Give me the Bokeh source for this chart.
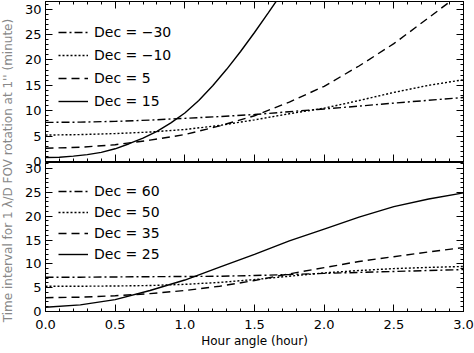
import math
from bokeh.plotting import figure
from bokeh.models import (ColumnDataSource, Range1d, LinearAxis, SingleIntervalTicker,
                          CustomJSTickFormatter, PrintfTickFormatter, Legend, LegendItem, Label)
from bokeh.layouts import row, column
from bokeh.embed import file_html
from bokeh.resources import INLINE

# ---------------- data ----------------
hour_angle = [0.0, 0.25, 0.5, 0.75, 1.0, 1.25, 1.5, 1.75, 2.0, 2.25, 2.5, 2.75, 3.0]

# upper panel
top_dec_m30 = [7.7, 7.75, 7.9, 8.15, 8.5, 8.85, 9.25, 9.8, 10.35, 10.9, 11.5, 12.05, 12.6]
top_dec_m10 = [5.2, 5.3, 5.5, 5.8, 6.3, 7.1, 8.2, 9.4, 10.5, 12.0, 13.6, 15.0, 16.1]
top_dec_5 = [2.6, 2.8, 3.3, 4.2, 5.3, 7.0, 9.0, 11.7, 14.8, 18.8, 23.2, 28.3, 33.5]
hour_angle_15 = [0.0, 0.1, 0.2, 0.3, 0.4, 0.5, 0.6, 0.7, 0.8, 0.9, 1.0, 1.1, 1.2,
                 1.3, 1.4, 1.5, 1.6, 1.7]
top_dec_15 = [0.8, 0.85, 1.05, 1.35, 1.8, 2.5, 3.5, 4.6, 5.95, 7.6, 9.55, 12.0, 14.9,
              18.15, 21.65, 25.4, 29.3, 33.3]

# lower panel
bot_dec_60 = [7.2, 7.2, 7.25, 7.3, 7.35, 7.4, 7.55, 7.75, 8.0, 8.2, 8.4, 8.6, 8.8]
bot_dec_50 = [5.3, 5.3, 5.35, 5.45, 5.7, 6.1, 6.7, 7.4, 8.1, 8.6, 9.0, 9.25, 9.45]
bot_dec_35 = [2.9, 3.0, 3.3, 3.75, 4.4, 5.3, 6.5, 7.9, 9.2, 10.5, 11.5, 12.5, 13.4]
bot_dec_25 = [0.9, 1.4, 2.5, 4.4, 6.6, 9.3, 12.0, 14.8, 17.3, 19.8, 22.0, 23.6, 24.9]

top_labels = ["Dec = \u221230", "Dec = \u221210", "Dec = 5", "Dec = 15"]
bot_labels = ["Dec = 60", "Dec = 50", "Dec = 35", "Dec = 25"]
x_label = "Hour angle (hour)"
y_label = "Time interval for 1 \u03bb/D FOV rotation at 1'' (minute)"

FONT = "DejaVu Sans"
DASHDOT = "8 3 2 3"
DOTTED = "2 2"
DASHED = "8 5"
LW = 1.4
TITLE_W = 15


def style_axis(ax, interval, labels=True):
    ax.ticker = SingleIntervalTicker(interval=interval, num_minor_ticks=5)
    ax.major_tick_in = 7
    ax.major_tick_out = 0
    ax.minor_tick_in = 3
    ax.minor_tick_out = 0
    ax.axis_line_color = "black"
    ax.major_tick_line_color = "black"
    ax.minor_tick_line_color = "black"
    ax.major_label_text_font = FONT
    ax.major_label_text_font_size = "13px"
    ax.major_label_text_color = "black"
    ax.major_label_standoff = 4
    if not labels:
        ax.formatter = CustomJSTickFormatter(code="return ''")
        ax.major_label_text_font_size = "0px"
        ax.major_label_standoff = 0


def make_legend(renderers, labels, loc, spacing):
    lg = Legend(items=[LegendItem(label=l, renderers=[r]) for l, r in zip(labels, renderers)],
                location=loc)
    lg.padding = 0
    lg.margin = 0
    lg.spacing = spacing
    lg.glyph_width = 30
    lg.glyph_height = 20
    lg.label_height = 20
    lg.label_standoff = 6
    lg.label_text_font = FONT
    lg.label_text_font_size = "14px"
    lg.label_text_color = "black"
    lg.border_line_alpha = 0
    lg.background_fill_alpha = 0
    return lg


x_rng = Range1d(0, 3)
W = 474 - TITLE_W
LEFT = 45 - TITLE_W
RIGHT = W - LEFT - 418

# ---------------- upper panel ----------------
top = figure(width=W, height=170, x_range=x_rng, y_range=Range1d(0, 31.5),
             output_backend="svg", toolbar_location=None,
             x_axis_type=None, y_axis_type=None,
             min_border_left=LEFT, min_border_right=RIGHT, min_border_top=1, min_border_bottom=9)
top.grid.visible = False
top.outline_line_color = "black"
top.border_fill_alpha = 0
top.background_fill_color = "white"

for side, interval, lab in (("left", 5, True), ("right", 5, False)):
    ax = LinearAxis()
    style_axis(ax, interval, lab)
    top.add_layout(ax, side)
for side in ("below", "above"):
    ax = LinearAxis()
    style_axis(ax, 0.5, False)
    top.add_layout(ax, side)

src_top = ColumnDataSource(dict(ha=hour_angle, m30=top_dec_m30, m10=top_dec_m10, d5=top_dec_5))
src_top15 = ColumnDataSource(dict(ha=hour_angle_15, d15=top_dec_15))
t1 = top.line("ha", "m30", source=src_top, line_color="black", line_width=LW, line_dash=DASHDOT)
t2 = top.line("ha", "m10", source=src_top, line_color="black", line_width=LW, line_dash=DOTTED)
t3 = top.line("ha", "d5", source=src_top, line_color="black", line_width=LW, line_dash=DASHED)
t4 = top.line("ha", "d15", source=src_top15, line_color="black", line_width=LW)
top.add_layout(make_legend([t1, t2, t3, t4], top_labels, (13, 50), 3))

# ---------------- lower panel ----------------
bot = figure(width=W, height=191, x_range=x_rng, y_range=Range1d(0, 31.26),
             output_backend="svg", toolbar_location=None,
             x_axis_type=None, y_axis_type=None,
             min_border_left=LEFT, min_border_right=RIGHT, min_border_top=0, min_border_bottom=42)
bot.grid.visible = False
bot.outline_line_color = "black"
bot.border_fill_alpha = 0
bot.background_fill_alpha = 0
bot.margin = (-8, 0, 0, 0)

for side, interval, lab in (("left", 5, True), ("right", 5, False)):
    ax = LinearAxis()
    style_axis(ax, interval, lab)
    bot.add_layout(ax, side)
xb = LinearAxis(axis_label=x_label)
style_axis(xb, 0.5, True)
xb.formatter = PrintfTickFormatter(format="%.1f")
xb.major_label_standoff = 8
xb.axis_label_standoff = 2
xb.axis_label_text_font = FONT
xb.axis_label_text_font_size = "12px"
xb.axis_label_text_font_style = "normal"
xb.axis_label_text_color = "black"
bot.add_layout(xb, "below")

src_bot = ColumnDataSource(dict(ha=hour_angle, d60=bot_dec_60, d50=bot_dec_50,
                                d35=bot_dec_35, d25=bot_dec_25))
b1 = bot.line("ha", "d60", source=src_bot, line_color="black", line_width=LW, line_dash=DASHDOT)
b2 = bot.line("ha", "d50", source=src_bot, line_color="black", line_width=LW, line_dash=DOTTED)
b3 = bot.line("ha", "d35", source=src_bot, line_color="black", line_width=LW, line_dash=DASHED)
b4 = bot.line("ha", "d25", source=src_bot, line_color="black", line_width=LW)
bot.add_layout(make_legend([b1, b2, b3, b4], bot_labels, (13, 47), 1))

# ---------------- shared y title ----------------
lab = figure(width=TITLE_W, height=353, output_backend="svg", toolbar_location=None,
             x_axis_type=None, y_axis_type=None, min_border=0,
             x_range=Range1d(0, 1), y_range=Range1d(0, 1))
lab.grid.visible = False
lab.outline_line_color = None
lab.add_layout(Label(x=TITLE_W / 2, y=353 - 170, x_units="screen", y_units="screen", text=y_label,
                     angle=math.pi / 2, text_align="center", text_baseline="middle",
                     text_font=FONT, text_font_size="12px", text_color="#888888"))

layout = row(lab, column(top, bot, spacing=0), spacing=0)
open("out.html", "w").write(file_html(layout, INLINE))
